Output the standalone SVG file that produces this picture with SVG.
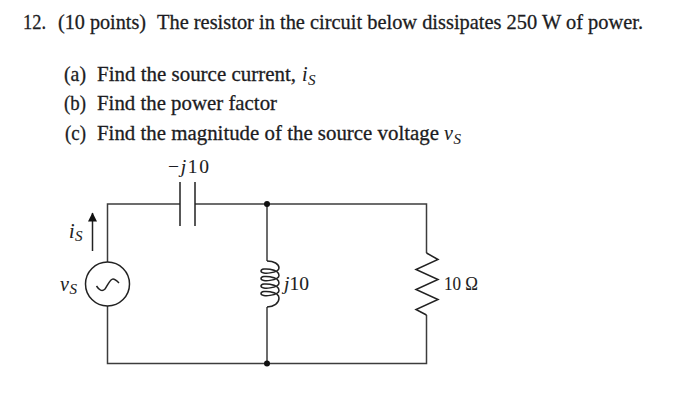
<svg xmlns="http://www.w3.org/2000/svg" width="700" height="401" viewBox="0 0 700 401">
<style>
text{font-family:"Liberation Serif","DejaVu Serif",serif;font-size:21.500px;fill:#1c1c22;stroke:#1c1c22;stroke-width:.3}
.m{font-size:19.500px;stroke-width:.1}
.i{font-style:italic}
.s{font-size:15px;font-style:italic;stroke-width:.1}
.v{font-size:20px;font-style:italic;stroke-width:.1}
.w{fill:none;stroke:#3c3c3c;stroke-width:1.5}
.b{fill:none;stroke:#222;stroke-width:1.500}
.d{fill:#111;stroke:none}
</style>
<defs><marker id="ah" markerUnits="userSpaceOnUse" markerWidth="10" markerHeight="10" refX="8.500" refY="4.500" orient="auto"><path d="M0 0L9 4.500L0 9Z" fill="#111"/></marker></defs>
<g id="question">
<text x="23" y="29" textLength="23" lengthAdjust="spacingAndGlyphs">12.</text>
<text x="58" y="29" textLength="88" lengthAdjust="spacingAndGlyphs">(10 points)</text>
<text x="157" y="29" textLength="486" lengthAdjust="spacingAndGlyphs">The resistor in the circuit below dissipates 250 W of power.</text>
<text x="64" y="81" textLength="22" lengthAdjust="spacingAndGlyphs">(a)</text>
<text x="97" y="81" textLength="199" lengthAdjust="spacingAndGlyphs">Find the source current,</text>
<text x="302" y="81" class="v">i</text><text x="308" y="84.500" class="s">S</text>
<text x="64" y="110" textLength="22" lengthAdjust="spacingAndGlyphs">(b)</text>
<text x="97" y="110" textLength="180" lengthAdjust="spacingAndGlyphs">Find the power factor</text>
<text x="65" y="140" textLength="21" lengthAdjust="spacingAndGlyphs">(c)</text>
<text x="97" y="140" textLength="342" lengthAdjust="spacingAndGlyphs" style="font-size:20.800px">Find the magnitude of the source voltage</text>
<text x="444" y="140" class="v">v</text><text x="453.500" y="143.500" class="s">S</text>
</g>
<g id="connectors">
<path class="w" d="M180 204H107.500V262M107.500 306V363.500H426.500V315M426.500 253V204H195"/>
<path class="w" d="M267 204V261M267 307V363.500"/>
</g>
<g id="source">
<circle class="b" cx="107.500" cy="284" r="22"/>
<path class="b" d="M96.500 286C99 290 102 292 105 289C108 285 110 279 113 279C115 279 117 281 119 283"/>
<text x="60" y="291" class="v">v</text><text x="69.500" y="294" class="s">S</text>
</g>
<g id="current">
<path class="b" d="M92.500 251V213" marker-end="url(#ah)"/>
<text x="69" y="238" class="v">i</text><text x="75" y="241" class="s">S</text>
</g>
<g id="capacitor">
<path class="b" d="M180 182V226M195 182V226"/>
<text x="168" y="173" class="m" textLength="41" lengthAdjust="spacing"><tspan>−</tspan><tspan class="i">j</tspan><tspan>10</tspan></text>
</g>
<g id="inductor">
<path class="b" d="M267 261C274 261 279 264 279 268C279 273 261 275 261 271C261 267 279 269 279 275.500C279 280.500 261 282.500 261 278.500C261 274.500 279 276.500 279 283C279 288 261 290 261 286C261 282 279 284 279 290.500C279 295.500 261 297.500 261 293.500C261 289.500 279 291.500 279 298C279 303 274 307 267 307"/>
<text x="284" y="290" class="m"><tspan class="i">j</tspan><tspan>10</tspan></text>
</g>
<g id="resistor">
<path class="b" d="M426.500 253L438 259.500L416 269.500L438 279.500L416 289.500L438 299.500L416 309.500L426.500 315"/>
<text x="444" y="290" class="m" textLength="34" lengthAdjust="spacingAndGlyphs">10 Ω</text>
</g>
<g id="junctions">
<circle class="d" cx="267" cy="204" r="3"/>
<circle class="d" cx="267" cy="363.500" r="3"/>
</g>
</svg>
